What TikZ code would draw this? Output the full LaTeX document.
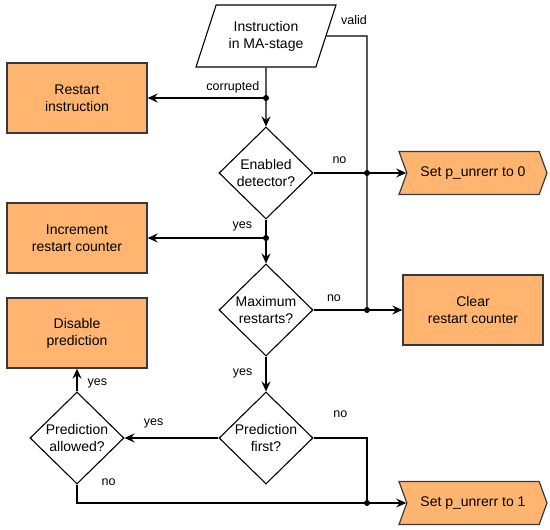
\documentclass[tikz,border=0pt]{standalone}
\usepackage{fontspec}
\setmainfont{Liberation Sans}
\usetikzlibrary{shapes.geometric,shapes.symbols,arrows.meta}

\definecolor{boxfill}{HTML}{FFB570}
\definecolor{boxline}{HTML}{36393D}

\begin{document}
\begin{tikzpicture}[x=1pt,y=-1pt,
	every node/.style={font=\fontsize{14}{17}\selectfont},
	act/.style={draw=boxline,fill=boxfill,line width=1.4pt,minimum width=140pt,minimum height=70pt,align=center,inner sep=0pt},
	sig/.style={draw=boxline,fill=boxfill,line width=1.2pt,signal,signal to=east,signal from=west,signal pointer angle=140,minimum width=148pt,minimum height=43pt,inner sep=2pt},
	dec/.style={draw,diamond,line width=1.1pt,minimum width=94pt,minimum height=92pt,inner sep=-3pt,align=center},
	inp/.style={draw,trapezium,trapezium left angle=72,trapezium right angle=108,line width=1.1pt,align=center,inner xsep=12.5pt,inner ysep=16pt},
	flow/.style={line width=1.2pt},
	arr/.style={line width=1.2pt,-{Stealth[length=10pt,width=9pt,inset=3.5pt]}},
	lab/.style={font=\fontsize{12.5}{15}\selectfont,inner sep=0pt,text height=9pt,text depth=2.5pt},
	dot/.style={fill=black}]
	\useasboundingbox (0,0) rectangle (550,530);

	% shapes
	\node[inp] (instr) at (266,36) {Instruction\\in MA-stage};
	\node[act] (restart) at (77,98) {Restart\\instruction};
	\node[dec] (detect) at (266,173) {Enabled\\detector?};
	\node[act] (incr) at (77,238) {Increment\\restart counter};
	\node[dec] (maxr) at (266,310) {Maximum\\restarts?};
	\node[act] (clear) at (473,310) {Clear\\restart counter};
	\node[sig] (set0) at (473,173) {Set p\_unrerr to 0};
	\node[dec] (pfirst) at (266,438) {Prediction\\first?};
	\node[dec] (pallow) at (77,438) {Prediction\\allowed?};
	\node[act] (disable) at (77,333) {Disable\\prediction};
	\node[sig] (set1) at (473,503) {Set p\_unrerr to 1};

	% junctions
	\coordinate (cj) at (266,98);
	\coordinate (yj) at (266,238);
	\coordinate (vt) at (367,36);
	\coordinate (d0) at (367,173);
	\coordinate (d1) at (367,310);
	\coordinate (d2) at (367,503);

	% connectors
	\draw[arr] (instr.south) -- (detect.north);
	\draw[arr] (cj) -- node[lab,above=4.5pt,pos=0.28]{corrupted} (restart.east);
	\draw[flow] (instr.east) -- node[lab,above=8.5pt,pos=0.68]{valid} (vt) -- (d1);
	\draw[arr] (detect.east) -- node[lab,above=6.5pt,pos=0.28]{no} (set0.west);
	\draw[arr] (detect.south) -- (maxr.north);
	\draw[arr] (yj) -- node[lab,above=6.5pt,pos=0.2]{yes} (incr.east);
	\draw[arr] (maxr.east) -- node[lab,above=5.5pt,pos=0.23]{no} (clear.west);
	\draw[arr] (maxr.south) -- node[lab,left=13pt,pos=0.45]{yes} (pfirst.north);
	\draw[arr] (pfirst.west) -- node[lab,above=9.5pt,pos=0.69]{yes} (pallow.east);
	\draw[arr] (pallow.north) -- node[lab,right=10pt,pos=0.4]{yes} (disable.south);
	\draw[flow] (pfirst.east) -- node[lab,above=17.5pt]{no} (d2 |- pfirst.east) -- (d2);
	\draw[flow] (pallow.south) node[lab,anchor=south west,xshift=24pt,yshift=-4.5pt]{no} |- (d2);
	\draw[arr] (d2) -- (set1.west);

	\foreach \j in {cj,yj,d0,d1,d2}
		\fill[dot] (\j) circle (3pt);
\end{tikzpicture}
\end{document}
